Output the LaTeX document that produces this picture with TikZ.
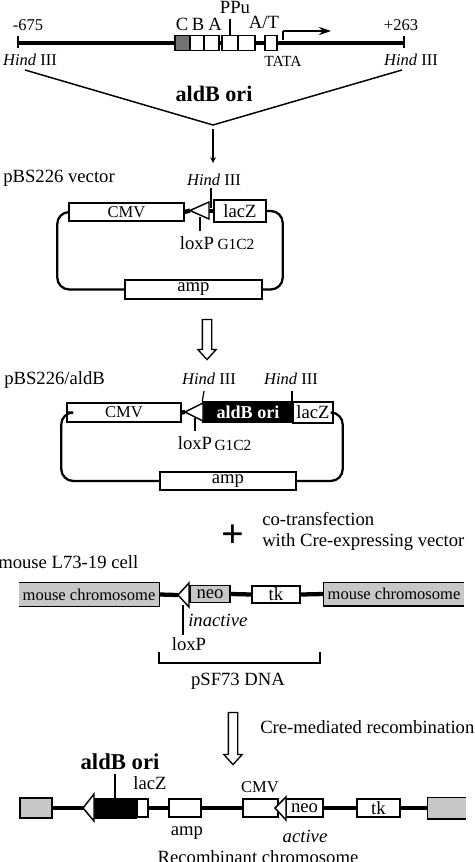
\documentclass[tikz,border=0pt]{standalone}
\usepackage{fontspec}
\setmainfont{Liberation Serif}
\usetikzlibrary{shapes.arrows, arrows.meta}
\def\u{0.75pt}
\definecolor{chromgray}{gray}{0.78}
\tikzset{
    every node/.style={font=\fontsize{14}{15.75}\selectfont, inner sep=0pt},
    sized/.style 2 args={minimum width=#1*\u, minimum height=#2*\u},
    genebox/.style={draw=black, fill=white, line width=1.1pt, inner sep=0pt},
    dnaline/.style={line width=3.2pt},
    loopline/.style={line width=1.7pt, rounded corners=9pt},
    tickline/.style={line width=0.9pt},
    plaintext/.style={font=\fontsize{12.4}{14}\selectfont},
    smalltext/.style={font=\fontsize{11.6}{13}\selectfont},
    boldtext/.style={font=\fontsize{13.6}{15}\selectfont\bfseries},
    headline/.style={font=\fontsize{16.6}{18}\selectfont\bfseries},
    openarrow/.style={draw=black, fill=white, line width=1pt, single arrow, rotate=270,
        inner ysep=3pt, inner xsep=0pt, single arrow head extend=3.4pt, single arrow tip angle=85},
    loxtri/.style={draw=black, fill=white, line width=1.1pt, line join=miter}
}
\begin{document}
\begin{tikzpicture}[x=0.75pt, y=-0.75pt, >=stealth]
    \useasboundingbox (0,0) rectangle (474,862);
    % aldB region on top
    \coordinate (topL) at (18,43);
    \coordinate (topR) at (404,43);
    \draw[line width=3.6pt] (topL) -- (topR);
    \foreach \e in {topL,topR}
        \draw[tickline] ([yshift=5.5pt]\e) -- ([yshift=-4pt]\e);
    \node[genebox, sized={15}{15}, fill=black!55] (boxC) at (182.5,43) {};
    \foreach \nm/\xc/\w in {boxB/197/14, boxA/211.5/15, boxPu/230/16, boxAT/246.5/17, boxTA/271/12}
        \node[genebox, sized={\w}{14.5}] (\nm) at (\xc,43) {};
    \coordinate (rnaS) at (283,31);
    \coordinate (rnaE) at (331,31);
    \draw[tickline] (283,40) -- (rnaS);
    \draw[-{Stealth[length=9pt,width=6pt]}, tickline] (rnaS) -- (rnaE);
    \coordinate (ppuTop) at (230,19);
    \draw[tickline] (ppuTop) -- (boxPu.north);
    \node[plaintext] (lblM) at (28,25) {-675};
    \node[plaintext] (lblP) at (401,25) {+263};
    \node[plaintext] (lblHl) at (30,60) {\textit{Hind} III};
    \node[plaintext] (lblHr) at (411,60) {\textit{Hind} III};
    \node (lblC) at (182,24) {C};
    \node (lblB) at (198,24) {B};
    \node (lblA) at (215,24) {A};
    \node (lblPu) at (235,7) {PPu};
    \node (lblAT) at (264,22) {A/T};
    \node[smalltext] (lblTata) at (283,61) {TATA};
    \node[headline] (lblOri) at (214,94) {aldB ori};
    \coordinate (veeL) at (25,70);
    \coordinate (veeM) at (213,125);
    \coordinate (veeR) at (402,70);
    \coordinate (veeA) at (213,129);
    \coordinate (veeB) at (213,163);
    \draw[line width=1.1pt] (veeL) -- (veeM) -- (veeR);
    \draw[->, tickline] (veeA) -- (veeB);

    % pBS226 vector
    \node[anchor=west] (vecName) at (3,178) {pBS226 vector};
    \node[genebox, plaintext, sized={115}{18}] (cmvA) at (126.5,212) {CMV};
    \node[genebox, sized={52}{22}] (lacA) at (240,211) {lacZ};
    \node[genebox, sized={137}{19}] (ampA) at (193.5,289.5) {amp};
    \draw[loopline] (cmvA.west) -- ++(-11,0) |- (ampA.west);
    \draw[loopline] (lacA.east) -- ++(16,0) |- (ampA.east);
    \coordinate (tipA) at (190,210.5);
    \draw[dnaline] (cmvA.east) -- (tipA);
    \draw[dnaline] (209,211) -- (lacA.west);
    \draw[loxtri] (tipA) -- (209,202) -- (209,219) -- cycle;
    \draw[tickline] (211,188) -- (211,208);
    \draw[tickline] (200,217) -- (200,231);
    \node[plaintext] (hindA) at (214,180) {\textit{Hind} III};
    \node (loxA) at (197,243) {loxP};
    \node[smalltext] (gcA) at (236,244) {G1C2};
    \node[openarrow, minimum height=40*\u] (openA) at (207,337) {};

    % pBS226/aldB
    \node[anchor=west] (aldName) at (4,380) {pBS226/aldB};
    \node[genebox, plaintext, sized={114}{19}] (cmvB) at (124,412.5) {CMV};
    \node[genebox, fill=black, text=white, sized={90}{20}, boldtext] (oriB) at (248,412) {aldB ori};
    \node[genebox, sized={40}{21}] (lacB) at (313,412.5) {lacZ};
    \node[genebox, sized={136}{18}] (ampB) at (228,481) {amp};
    \draw[loopline] (cmvB.west) -- ++(-5,0) |- (ampB.west);
    \draw[loopline] (lacB.east) -- ++(9,0) |- (ampB.east);
    \coordinate (tipB) at (185,412);
    \draw[dnaline] (cmvB.east) -- (tipB);
    \draw[loxtri] (tipB) -- (203,403) -- (203,421) -- cycle;
    \draw[tickline] (204,391) -- (oriB.north west);
    \draw[tickline] (292,391) -- (292,402);
    \draw[tickline] (195,418) -- (195,431);
    \node[plaintext] (hindB) at (209,379) {\textit{Hind} III};
    \node[plaintext] (hindC) at (291,379) {\textit{Hind} III};
    \node (loxB) at (195,443) {loxP};
    \node[smalltext] (gcB) at (233,445) {G1C2};

    % co-transfection
    \node[font=\fontsize{30}{30}\selectfont\bfseries] (plusS) at (233,536) {+};
    \node[anchor=west, align=left] (coT) at (262,531.5) {co-transfection\\with Cre-expressing vector};

    % mouse L73-19 cell
    \node[anchor=west] (cellName) at (-2,562) {mouse L73-19 cell};
    \node[plaintext, fill=chromgray, sized={140}{23}] (chromL) at (89,594.5) {mouse chromosome};
    \node[plaintext, fill=chromgray, sized={140}{23}] (chromR) at (394,594) {mouse chromosome};
    \draw[line width=1.1pt] (chromL.north west) -- (chromL.north east) -- (chromL.south east) -- (chromL.south west);
    \draw[line width=1.1pt] (chromR.north east) -- (chromR.north west) -- (chromR.south west) -- (chromR.south east);
    \node[genebox, fill=chromgray, sized={40}{17}] (neoC) at (210,594) {neo};
    \node[genebox, sized={48}{17}] (tkC) at (276,594.5) {tk};
    \coordinate (tipC) at (178,595);
    \draw[dnaline] (chromL.east) -- (tipC);
    \draw[dnaline] (neoC.east) -- (tkC.west);
    \draw[dnaline] (tkC.east) -- (chromR.west);
    \draw[loxtri] (tipC) -- (189,583) -- (189,607) -- cycle;
    \draw[tickline] (183,605) -- (183,635);
    \node[anchor=west] (inactC) at (188,620) {\textit{inactive}};
    \node (loxC) at (189,644) {loxP};
    \coordinate (brkL) at (159,663);
    \coordinate (brkR) at (320,663);
    \draw[tickline] (159,652) -- (brkL) -- (brkR) -- (320,652);
    \node (dnaC) at (238,681) {pSF73 DNA};
    \node[openarrow, minimum height=52*\u] (openB) at (233,736) {};
    \node[anchor=west] (creT) at (260,727) {Cre-mediated recombination};

    % recombinant chromosome
    \node[genebox, fill=chromgray, sized={32}{20}] (endL) at (36,808) {};
    \node[fill=chromgray, sized={38}{21}] (endR) at (447,808) {};
    \draw[line width=1.1pt] (endR.north east) -- (endR.north west) -- (endR.south west) -- (endR.south east);
    \node[genebox, fill=black, sized={42}{19}] (oriD) at (115,808.5) {};
    \foreach \nm/\xc/\w/\lab in {lacD/142.5/11/{}, ampD/185/32/{}, cmvD/260.5/35/{}, neoD/304.5/37/neo, tkD/378.5/43/tk}
        \node[genebox, sized={\w}{18}] (\nm) at (\xc,808) {\lab};
    \coordinate (tipD) at (83,808);
    \coordinate (tipE) at (275,808);
    \draw[dnaline] (endL.east) -- (tipD);
    \draw[dnaline] (oriD.east) -- (lacD.west);
    \draw[dnaline] (lacD.east) -- (ampD.west);
    \draw[dnaline] (ampD.east) -- (cmvD.west);
    \draw[dnaline] (neoD.east) -- (tkD.west);
    \draw[dnaline] (tkD.east) -- (endR.west);
    \draw[loxtri] (tipD) -- (94,794) -- (94,821) -- cycle;
    \draw[loxtri] (tipE) -- (286,797) -- (286,820) -- cycle;
    \draw[tickline] (115,774) -- (oriD.north);
    \node[font=\fontsize{17}{19}\selectfont\bfseries] (oriLab) at (120,762) {aldB ori};
    \node (lacLab) at (150,783) {lacZ};
    \node[plaintext] (cmvLab) at (260,787) {CMV};
    \node (ampLab) at (187,833) {amp};
    \node (actLab) at (305,836) {\textit{active}};
    \node (recLab) at (258,857) {Recombinant chromosome};
\end{tikzpicture}
\end{document}
